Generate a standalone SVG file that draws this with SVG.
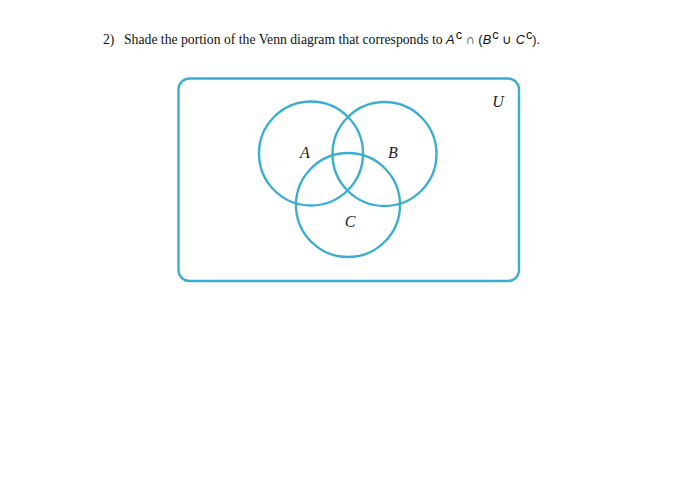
<svg xmlns="http://www.w3.org/2000/svg" width="700" height="486" viewBox="0 0 700 486">
<style>
.t{font-family:"Liberation Serif","Times New Roman",serif;font-size:13.7px;fill:#111}
.m{font-family:"Liberation Sans",Arial,sans-serif;font-size:12.8px;fill:#111}
.lbl{font-family:"Liberation Serif","Times New Roman",serif;font-style:italic;font-size:16px;fill:#222;text-anchor:middle}
.c{fill:none;stroke:#3cadd2;stroke-width:2.4}
</style>
<rect width="700" height="486" fill="#fff"/>
<text x="103" y="44" class="t">2)<tspan x="124">Shade the portion of the Venn diagram that corresponds to </tspan><tspan class="m" font-style="italic">A</tspan><tspan class="m" font-size="7.5" dx="1" dy="-5">c</tspan><tspan class="m" dy="5"> ∩ (</tspan><tspan class="m" font-style="italic">B</tspan><tspan class="m" font-size="7.5" dx="1" dy="-5">c</tspan><tspan class="m" dy="5"> ∪ </tspan><tspan class="m" font-style="italic">C</tspan><tspan class="m" font-size="7.5" dx="1" dy="-5">c</tspan><tspan class="m" dy="5">).</tspan></text>
<g id="universe">
<rect x="178.5" y="78.5" width="340.5" height="202.5" rx="11" class="c"/>
<text x="498" y="107" class="lbl">U</text>
</g>
<g id="setA">
<circle cx="311" cy="153.5" r="52" class="c"/>
<text x="305" y="158" class="lbl">A</text>
</g>
<g id="setB">
<circle cx="384.5" cy="154" r="52" class="c"/>
<text x="393" y="158" class="lbl">B</text>
</g>
<g id="setC">
<circle cx="348" cy="205" r="52" class="c"/>
<text x="350" y="227" class="lbl">C</text>
</g>
<g id="connectors"></g>
</svg>
